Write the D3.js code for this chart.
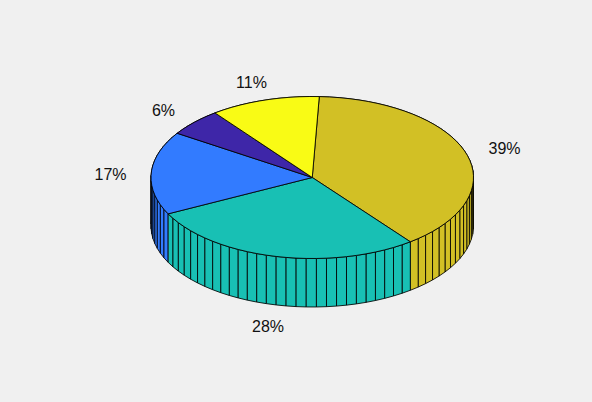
<!DOCTYPE html>
<html><head><meta charset="utf-8">
<script src="https://cdnjs.cloudflare.com/ajax/libs/d3/7.8.5/d3.min.js"></script>
<style>html,body{margin:0;padding:0;background:#f0f0f0}svg{display:block}</style>
</head><body><svg id="c" width="592" height="402"></svg>
<script>
const shares = [38.9, 28.0, 16.6, 5.5, 11.0];
const labels = ["39%", "28%", "17%", "6%", "11%"];
const colors = ["#d2c025", "#18c0b4", "#327bff", "#3e26a8", "#f9fb15"];
const labelAnchors = [[504.5,148],[268,326],[110.5,174],[163.5,110],[251.5,82]];

const svg = d3.select("#c");
const x = d3.scaleLinear().domain([-1,1]).range([151,473.5]);
const y = d3.scaleLinear().domain([-1,1]).range([96.5,258.5]);
const depth = d3.scaleLinear().domain([0,1]).range([0,48.5]);

const total = d3.sum(shares);
const start = 2.5*Math.PI/180;
const arcs = d3.pie().sort(null).startAngle(start).endAngle(start+2*Math.PI)(shares);

const px = a => x(Math.sin(a));
const py = a => y(-Math.cos(a));
const line = d3.line();

// side facets, back to front
const facets = [];
arcs.forEach((arc,i)=>{
  const n = Math.max(1,Math.ceil(100*shares[i]/total));
  const step = (arc.endAngle-arc.startAngle)/n;
  for(let k=0;k<n;k++){
    facets.push({a0:arc.startAngle+k*step,a1:arc.startAngle+(k+1)*step,i});
  }
});
facets.sort((p,q)=>(py(p.a0)+py(p.a1))-(py(q.a0)+py(q.a1)));
svg.append("g").selectAll("path").data(facets).join("path")
  .attr("d",f=>line([[px(f.a0),py(f.a0)],[px(f.a1),py(f.a1)],
    [px(f.a1),py(f.a1)+depth(1)],[px(f.a0),py(f.a0)+depth(1)]])+"Z")
  .attr("fill",f=>colors[f.i])
  .attr("stroke","#000").attr("stroke-width",0.85).attr("stroke-linejoin","round");

// top faces
svg.append("g").selectAll("path").data(arcs).join("path")
  .attr("d",(arc,i)=>{
    const n = Math.max(1,Math.ceil(100*shares[i]/total));
    const pts = [[x(0),y(0)]];
    d3.range(n+1).forEach(k=>{
      const a = arc.startAngle+(arc.endAngle-arc.startAngle)*k/n;
      pts.push([px(a),py(a)]);
    });
    return line(pts)+"Z";
  })
  .attr("fill",(d,i)=>colors[i])
  .attr("stroke","#000").attr("stroke-width",0.85).attr("stroke-linejoin","round");

// labels
svg.append("g").selectAll("text").data(labels).join("text")
  .attr("x",(d,i)=>labelAnchors[i][0]).attr("y",(d,i)=>labelAnchors[i][1])
  .attr("text-anchor","middle").attr("dominant-baseline","central")
  .attr("font-family","'Liberation Sans',Arial,sans-serif").attr("font-size",16)
  .attr("fill","#111").text(d=>d);
</script></body></html>
